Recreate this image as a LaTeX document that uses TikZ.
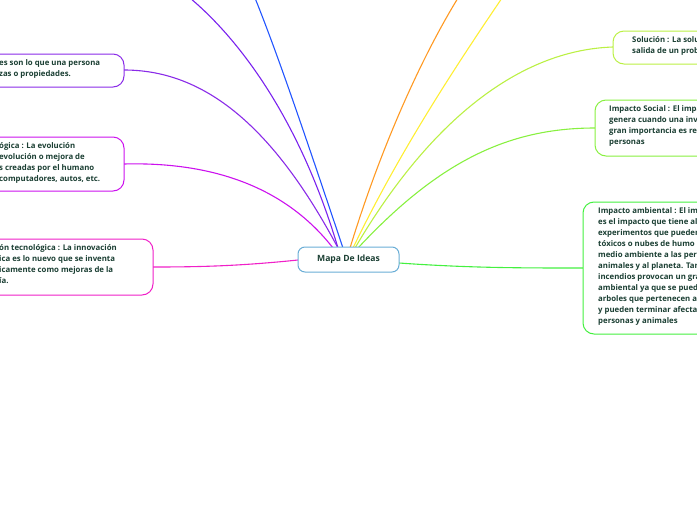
\documentclass[tikz,border=0pt]{standalone}
\usepackage{fontspec}
\setmainfont{Open Sans}
\begin{document}
\begin{tikzpicture}[x=1pt,y=-1pt,
  box/.style={line width=1pt,rounded corners=11pt,fill=white},
  txt/.style={anchor=north west,inner sep=0pt,align=left,font=\fontsize{7.8}{11}\selectfont\bfseries,text=txtc},
  con/.style={line width=1.1pt}]
\definecolor{txtc}{HTML}{1B3F33}
\definecolor{cpur}{HTML}{8A2BE8}
\definecolor{cmag}{HTML}{CC11EE}
\definecolor{cpink}{HTML}{F020C8}
\definecolor{cblue}{HTML}{2255FF}
\definecolor{cdv}{HTML}{7A22EE}
\definecolor{corange}{HTML}{FF9922}
\definecolor{cyel}{HTML}{FFEE33}
\definecolor{cyg}{HTML}{BBF044}
\definecolor{cg1}{HTML}{88F040}
\definecolor{cg2}{HTML}{44F040}
\definecolor{cmid}{HTML}{6AAED6}
\useasboundingbox (0,0) rectangle (697,520);
\clip (0,0) rectangle (697,520);
\coordinate (t1) at (190,-2);
\coordinate (t2) at (255,-2);
\coordinate (t3) at (458,-2);
\coordinate (t4) at (502,-2);
% connectors
\draw[con,cdv] (338,248) .. controls (300,120) and (240,40) .. (t1);
\draw[con,cblue] (343,248) .. controls (310,150) and (280,60) .. (t2);
\draw[con,corange] (350,248) .. controls (380,150) and (420,60) .. (t3);
\draw[con,cyel] (353,248) .. controls (400,150) and (460,60) .. (t4);
\draw[con,cpur] (338,248) .. controls (270,120) and (200,70) .. (124,70);
\draw[con,cmag] (333,248) .. controls (280,180) and (200,162) .. (124,164);
\draw[con,cpink] (298,260) .. controls (240,266) and (200,267) .. (153,267);
\draw[con,cyg] (355,248) .. controls (430,120) and (520,50) .. (613,47);
\draw[con,cg1] (358,248) .. controls (440,160) and (510,128) .. (595,128);
\draw[con,cg2] (399,263) .. controls (470,268) and (520,268) .. (583,268);
% nodes
\draw[box,draw=cpur] (-30,54) rectangle (124,87);
\node[txt] (l1) at (-1,59) {es son lo que una persona\\zas o propiedades.};
\draw[box,draw=cmag] (-30,137) rectangle (124,191);
\node[txt] (l2) at (-1,142) {ógica : La evolución\\ evolución o mejora de\\s creadas por el humano\\computadores, autos, etc.};
\draw[box,draw=cpink] (-30,239) rectangle (153,295);
\node[txt] (l3) at (-1,244) {ón tecnológica : La innovación\\ica es lo nuevo que se inventa\\icamente como mejoras de la\\ía.};
\draw[box,draw=cyg] (613,31) rectangle (760,64);
\node[txt] (r1) at (632,36) {Solución : La solución es la\\salida de un problema};
\draw[box,draw=cg1] (595,100) rectangle (760,156);
\node[txt] (r2) at (609,105) {Impacto Social : El impacto social se\\genera cuando una invención de\\gran importancia es recibida por las\\personas};
\draw[box,draw=cg2] (583,202) rectangle (760,334);
\node[txt] (r3) at (598,207) {Impacto ambiental : El impacto ambiental\\es el impacto que tiene algunos\\experimentos que pueden generar gases\\tóxicos o nubes de humo que afectan al\\medio ambiente a las personas,\\animales y al planeta. También los\\incendios provocan un gran impacto\\ambiental ya que se pueden quemar\\arboles que pertenecen a los bosques\\y pueden terminar afectando a las\\personas y animales};
\draw[box,rounded corners=7pt,draw=cmid] (298,247) rectangle (399,272);
\node[font=\fontsize{8.6}{10}\selectfont\bfseries,text=txtc] (m) at (348.5,259.5) {Mapa De Ideas};
\end{tikzpicture}
\end{document}
